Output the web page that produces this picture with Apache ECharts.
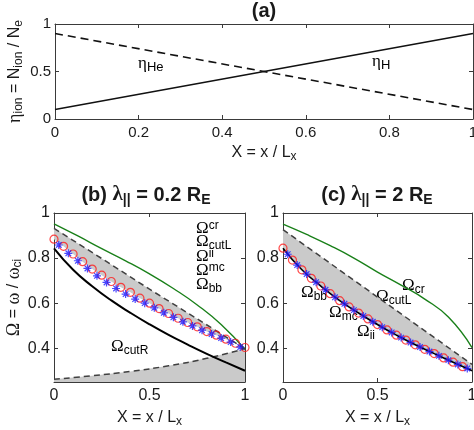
<!DOCTYPE html>
<html>
<head>
<meta charset="utf-8">
<script src="https://cdn.jsdelivr.net/npm/echarts@6.0.0/dist/echarts.min.js"></script>
<style>
  html, body { margin: 0; padding: 0; background: #fff; }
  #main { width: 474px; height: 430px; }
</style>
</head>
<body>
<div id="main"></div>
<script>
// ---- (a) ion composition ----
var xA = [0, 1];
var etaH = [0.1, 0.9];
var etaHe = [0.9, 0.1];

// ---- (b) lambda = 0.2 RE ----
var yMinB = 0.25;   // bottom of the frequency axes (He gyrofrequency)
var xCircB = [0, 0.05, 0.1, 0.15, 0.2, 0.25, 0.3, 0.35, 0.4, 0.45, 0.5, 0.55, 0.6, 0.65, 0.7, 0.75, 0.8, 0.85, 0.9, 0.95, 1];
var iiB = [0.884, 0.852, 0.818, 0.784, 0.751, 0.724, 0.696, 0.670, 0.648, 0.622, 0.600, 0.576, 0.554, 0.533, 0.514, 0.495, 0.474, 0.458, 0.440, 0.422, 0.403];
var xStarB = [0.025, 0.075, 0.125, 0.175, 0.225, 0.275, 0.325, 0.375, 0.425, 0.475, 0.525, 0.575, 0.625, 0.675, 0.725, 0.775, 0.825, 0.875, 0.925, 0.975];
var mcB = [0.858, 0.821, 0.788, 0.754, 0.721, 0.692, 0.665, 0.640, 0.618, 0.600, 0.579, 0.557, 0.537, 0.517, 0.499, 0.480, 0.463, 0.445, 0.427, 0.405];
var xCrB = [0, 0.125, 0.25, 0.375, 0.5, 0.625, 0.75, 0.875, 1];
var crB = [0.952, 0.898, 0.842, 0.788, 0.730, 0.665, 0.592, 0.505, 0.395];
var xCutLB = [0, 0.25, 0.5, 0.75, 1];
var cutLB = [0.932, 0.798, 0.662, 0.530, 0.397];
var xCutRB = [0, 0.2, 0.4, 0.6, 0.8, 1];
var cutRB = [0.262, 0.278, 0.297, 0.322, 0.355, 0.398];
var xBB = [0, 0.1, 0.2, 0.3, 0.4, 0.5, 0.6, 0.7, 0.8, 0.9, 1];
var bbB = [0.843, 0.748, 0.675, 0.612, 0.557, 0.506, 0.459, 0.416, 0.375, 0.337, 0.300];

// ---- (c) lambda = 2 RE ----
var xCircC = [0, 0.05, 0.1, 0.15, 0.2, 0.25, 0.3, 0.35, 0.4, 0.45, 0.5, 0.55, 0.6, 0.65, 0.7, 0.75, 0.8, 0.85, 0.9, 0.95];
var iiC = [0.844, 0.791, 0.748, 0.710, 0.676, 0.642, 0.611, 0.583, 0.556, 0.530, 0.505, 0.481, 0.458, 0.436, 0.415, 0.395, 0.376, 0.357, 0.338, 0.318];
var xStarC = [0.025, 0.075, 0.125, 0.175, 0.225, 0.275, 0.325, 0.375, 0.425, 0.475, 0.525, 0.575, 0.625, 0.675, 0.725, 0.775, 0.825, 0.875, 0.925, 0.975];
var mcC = [0.817, 0.769, 0.729, 0.693, 0.659, 0.626, 0.597, 0.569, 0.543, 0.517, 0.493, 0.470, 0.447, 0.425, 0.405, 0.385, 0.366, 0.347, 0.328, 0.310];
var xCrC = [0, 0.125, 0.25, 0.375, 0.5, 0.625, 0.75, 0.875, 1];
var crC = [0.951, 0.905, 0.855, 0.800, 0.738, 0.680, 0.618, 0.538, 0.403];
var xCutLC = [0, 0.5, 1];
var cutLC = [0.926, 0.627, 0.328];
var bbC = [0.844, 0.748, 0.676, 0.611, 0.556, 0.505, 0.458, 0.415, 0.376, 0.338, 0.300];

var yTicksA = [0, 0.5, 1];
var yTicksBC = [0.4, 0.6, 0.8, 1];

var sans = 'Liberation Sans, Arial, Helvetica, sans-serif';
var serif = 'Liberation Serif, Times New Roman, serif';
var axisColor = '#3a3a3a';
var textColor = '#1a1a1a';
var dashColor = '#404040';
var bandColor = '#cacaca';
var green = '#1a801a';

var richText = {
	t : { fontFamily : sans, fontSize : 16, color : textColor, lineHeight : 20 },
	g : { fontFamily : serif, fontSize : 18, color : textColor, lineHeight : 20 },
	s : { fontFamily : sans, fontSize : 12, color : textColor, lineHeight : 10, verticalAlign : 'bottom' }
};

function pts(xs, ys) {
	return xs.map(function(x, i) {
		return [ x, ys[i] ];
	});
}

function xAxes(gi, interval, fontSize, nameGap) {
	var base = {
		type : 'value',
		gridIndex : gi,
		min : 0,
		max : 1,
		interval : interval,
		axisLine : { show : true, onZero : false, lineStyle : { color : axisColor, width : 1 } },
		axisTick : { show : true, inside : true, length : 4, lineStyle : { color : axisColor } },
		splitLine : { show : false }
	};
	var bottom = echarts.util.merge({
		position : 'bottom',
		axisLabel : { fontSize : fontSize, fontFamily : sans, color : textColor, margin : 6 },
		name : '{t|X = x / L}{s|x}',
		nameLocation : 'middle',
		nameGap : nameGap,
		nameMoveOverlap : false,
		nameTextStyle : { rich : richText }
	}, base, false);
	var top = echarts.util.merge({
		position : 'top',
		axisLabel : { show : false }
	}, base, false);
	return [ bottom, top ];
}

function yAxes(gi, min, ticks, interval, fontSize, name, nameGap) {
	var base = {
		type : 'value',
		gridIndex : gi,
		min : min,
		max : 1,
		axisLine : { show : true, onZero : false, lineStyle : { color : axisColor, width : 1 } },
		axisTick : { show : true, inside : true, length : 4, lineStyle : { color : axisColor } },
		splitLine : { show : false }
	};
	if (interval) {
		base.interval = interval;
	} else {
		base.axisTick.customValues = ticks;
	}
	var left = echarts.util.clone(base);
	left.position = 'left';
	left.axisLabel = { fontSize : fontSize, fontFamily : sans, color : textColor, margin : 4 };
	if (!interval) {
		left.axisLabel.customValues = ticks;
	}
	if (name) {
		left.name = name;
		left.nameLocation = 'middle';
		left.nameRotate = 90;
		left.nameGap = nameGap;
		left.nameMoveOverlap = false;
		left.nameTextStyle = { rich : richText };
	}
	var right = echarts.util.clone(base);
	right.position = 'right';
	right.axisLabel = { show : false };
	return [ left, right ];
}

function curve(gi, xs, ys, color, width, dash, smooth, z) {
	return {
		type : 'line',
		xAxisIndex : 2 * gi,
		yAxisIndex : 2 * gi,
		data : pts(xs, ys),
		symbol : 'none',
		smooth : smooth,
		silent : true,
		z : z,
		lineStyle : { color : color, width : width, type : dash || 'solid' }
	};
}

function band(gi, upX, upY, loX, loY) {
	var poly = pts(upX, upY).concat(pts(loX, loY).reverse());
	return {
		type : 'custom',
		xAxisIndex : 2 * gi,
		yAxisIndex : 2 * gi,
		silent : true,
		z : 1,
		data : [ poly[0] ],
		renderItem : function(params, api) {
			return {
				type : 'polygon',
				shape : { points : poly.map(function(p) { return api.coord(p); }) },
				style : { fill : bandColor }
			};
		}
	};
}

function circles(gi, xs, ys) {
	return {
		type : 'scatter',
		xAxisIndex : 2 * gi,
		yAxisIndex : 2 * gi,
		data : pts(xs, ys),
		symbol : 'circle',
		symbolSize : 8,
		silent : true,
		z : 4,
		itemStyle : { color : 'rgba(0,0,0,0)', borderColor : '#ff1a1a', borderWidth : 1.2 }
	};
}

function stars(gi, xs, ys) {
	return {
		type : 'scatter',
		xAxisIndex : 2 * gi,
		yAxisIndex : 2 * gi,
		data : pts(xs, ys),
		symbol : 'path://M5,0L5,10M0,5L10,5M1.5,1.5L8.5,8.5M1.5,8.5L8.5,1.5',
		symbolSize : 8,
		silent : true,
		z : 5,
		itemStyle : { color : 'rgba(0,0,0,0)', borderColor : '#1a1aff', borderWidth : 1.2 }
	};
}

// Omega labels; sub = subscript placed low ('bottom') or high ('top')
function omega(x, y, sub, color, where) {
	return {
		type : 'text',
		x : x,
		y : y,
		silent : true,
		style : {
			text : '{o|Ω}{s|' + sub + '}',
			align : 'left',
			verticalAlign : 'middle',
			rich : {
				o : { fontFamily : serif, fontSize : 17, color : color, lineHeight : 19 },
				s : { fontFamily : sans, fontSize : 12, color : color, lineHeight : 9, verticalAlign : where }
			}
		}
	};
}

function eta(x, y, sub) {
	return {
		type : 'text',
		x : x,
		y : y,
		silent : true,
		style : {
			text : '{o|η}{s|' + sub + '}',
			align : 'left',
			verticalAlign : 'middle',
			rich : {
				o : { fontFamily : serif, fontSize : 17, color : textColor, lineHeight : 19 },
				s : { fontFamily : sans, fontSize : 13, color : textColor, lineHeight : 9, verticalAlign : 'bottom' }
			}
		}
	};
}

var titleRich = {
	t : { fontFamily : sans, fontSize : 20, fontWeight : 'bold', color : textColor, lineHeight : 24 },
	g : { fontFamily : serif, fontSize : 21, color : textColor, lineHeight : 24 },
	s : { fontFamily : sans, fontSize : 14, fontWeight : 'bold', color : textColor, lineHeight : 10, verticalAlign : 'bottom' }
};

var chart = echarts.init(document.getElementById('main'));
var option = {
	animation : false,
	backgroundColor : '#ffffff',
	title : [ {
		text : '{t|(a)}', left : 264, top : -1, textAlign : 'center', padding : 0,
		textStyle : { rich : titleRich }
	}, {
		text : '{t|(b) }{g|λ}{s|||}{t| = 0.2 R}{s|E}', left : 146, top : 183, textAlign : 'center', padding : 0,
		textStyle : { rich : titleRich }
	}, {
		text : '{t|(c) }{g|λ}{s|||}{t| = 2 R}{s|E}', left : 377, top : 183, textAlign : 'center', padding : 0,
		textStyle : { rich : titleRich }
	} ],
	grid : [
		{ left : 55, top : 24, width : 418, height : 95, outerBoundsMode : 'none' },
		{ left : 54, top : 213, width : 191, height : 169, outerBoundsMode : 'none' },
		{ left : 283, top : 213, width : 189, height : 169, outerBoundsMode : 'none' }
	],
	xAxis : [].concat(xAxes(0, 0.2, 15, 24), xAxes(1, 0.5, 16, 26), xAxes(2, 0.5, 16, 26)),
	yAxis : [].concat(
		yAxes(0, 0, yTicksA, 0.5, 15, '{g|η}{s|ion}{t| = N}{s|ion}{t| / N}{s|e}', 30),
		yAxes(1, yMinB, yTicksBC, null, 16, '{g|Ω}{t| = }{g|ω}{t| / }{g|ω}{s|ci}', 30),
		yAxes(2, yMinB, yTicksBC, null, 16, null, 0)),
	series : [
		// (a)
		curve(0, xA, etaH, '#111', 1.6, null, false, 3),
		curve(0, xA, etaHe, '#111', 1.6, [ 8, 5 ], false, 3),
		// (b)
		band(1, xCutLB, cutLB, xCircB, iiB),
		band(1, xCutRB, cutRB, [ 0, 1 ], [ yMinB, yMinB ]),
		curve(1, xCrB, crB, green, 1.4, null, true, 3),
		curve(1, xCutLB, cutLB, dashColor, 1.5, [ 6, 4 ], false, 3),
		curve(1, xCutRB, cutRB, dashColor, 1.5, [ 6, 4 ], true, 3),
		curve(1, xBB, bbB, '#000', 2, null, true, 3),
		circles(1, xCircB, iiB),
		stars(1, xStarB, mcB),
		// (c)
		band(2, xCutLC, cutLC, xBB, bbC),
		curve(2, xCrC, crC, green, 1.4, null, true, 3),
		curve(2, xCutLC, cutLC, dashColor, 1.5, [ 6, 4 ], false, 3),
		curve(2, xBB, bbC, '#000', 1.6, null, true, 3),
		circles(2, xCircC, iiC),
		stars(2, xStarC, mcC)
	],
	graphic : [
		eta(138, 64, 'He'),
		eta(372, 62, 'H'),
		omega(196, 229, 'cr', green, 'top'),
		omega(196, 242, 'cutL', '#404040', 'bottom'),
		omega(196, 257, 'ii', '#ff1a1a', 'top'),
		omega(196, 271, 'mc', '#1a1aff', 'top'),
		omega(196, 285, 'bb', '#000', 'bottom'),
		omega(111, 347, 'cutR', '#505050', 'bottom'),
		omega(402, 286, 'cr', green, 'bottom'),
		omega(376, 297, 'cutL', '#404040', 'bottom'),
		omega(301, 293, 'bb', '#000', 'bottom'),
		omega(329, 313, 'mc', '#1a1aff', 'bottom'),
		omega(357, 332, 'ii', '#ff1a1a', 'bottom')
	]
};

chart.setOption(option);
</script>
</body>
</html>
